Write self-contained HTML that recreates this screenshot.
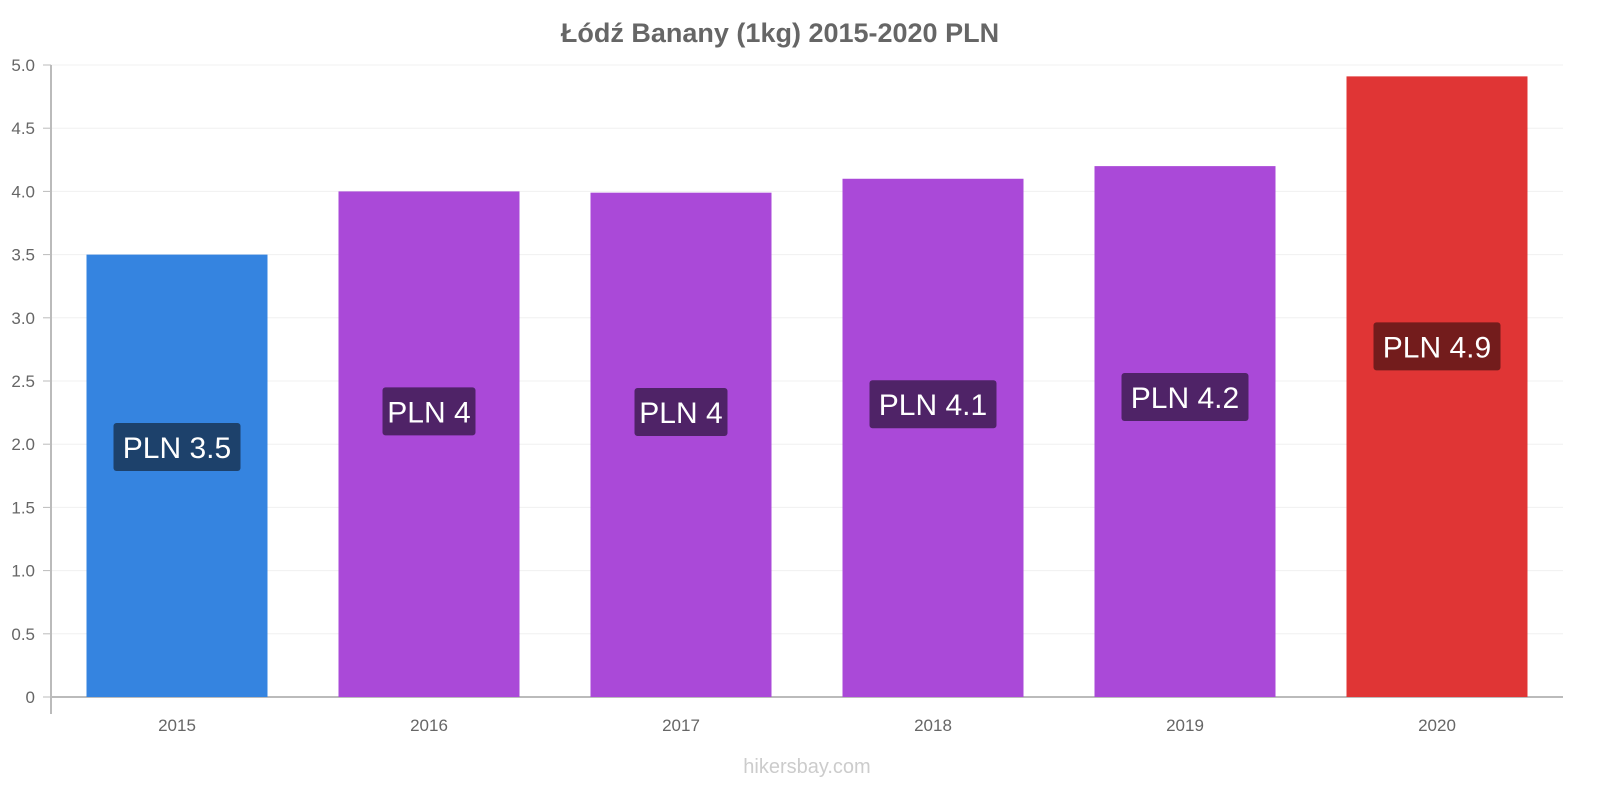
<!DOCTYPE html>
<html><head><meta charset="utf-8"><style>
body{margin:0;background:#fff;width:1600px;height:800px;overflow:hidden;font-family:"Liberation Sans",sans-serif}
</style></head><body>
<svg id="c" width="1600" height="800">
<text x="780" y="42" text-anchor="middle" font-size="27" font-weight="bold" fill="#666">Łódź Banany (1kg) 2015-2020 PLN</text>
<text x="807" y="773" text-anchor="middle" font-size="20" fill="#ccc">hikersbay.com</text>
</svg>
<script>
const categories=["2015","2016","2017","2018","2019","2020"];
const values=[3.5,4.0,3.99,4.1,4.2,4.91];
const labels=["PLN 3.5","PLN 4","PLN 4","PLN 4.1","PLN 4.2","PLN 4.9"];
const ticks=[0,0.5,1,1.5,2,2.5,3,3.5,4,4.5,5];
const tickLabels=["0","0.5","1.0","1.5","2.0","2.5","3.0","3.5","4.0","4.5","5.0"];
const svg=document.getElementById('c');const NS="http://www.w3.org/2000/svg";
const x0=51,x1=1563,y0=697,yTop=65,band=(x1-x0)/categories.length;
const y=v=>y0-(y0-yTop)*v/5;
function mk(t,a,p){const e=document.createElementNS(NS,t);for(const k in a)e.setAttribute(k,a[k]);(p||svg).appendChild(e);return e;}
ticks.forEach((t,i)=>{
 const g=mk('line',{x1:x0,x2:x1,y1:y(t),y2:y(t),stroke:t===0?'#bbb':'#f0f0f0','stroke-width':t===0?2:1});
 
 mk('line',{x1:x0-8,x2:x0,y1:y(t),y2:y(t),stroke:'#bbb'});
 const l=mk('text',{x:35,y:y(t)+6,'text-anchor':'end','font-size':17,fill:'#666'});l.textContent=tickLabels[i];
 
});
const ax=mk('line',{x1:x0,x2:x0,y1:yTop,y2:714,stroke:'#bbb','stroke-width':2});

categories.forEach((c,i)=>{
 const v=values[i];
 const col=i===0?'#3584e0':(i===categories.length-1?'#e03535':'#aa49d8');
 const lc=i===0?'#1d416b':(i===categories.length-1?'#731c1c':'#4f2367');
 const bx=x0+band*i+35.5,bw=181;
 const b=mk('rect',{x:bx,y:y(v),width:bw,height:y0-y(v),fill:col});
 
 const cy=y(v*0.565);const cx=bx+bw/2;const w=labels[i].length*17+8;
 const r=mk('rect',{x:cx-w/2,y:cy-24,width:w,height:48,rx:3,fill:lc});
 
 const t=mk('text',{x:cx,y:cy+11,'text-anchor':'middle','font-size':30,fill:'#fff'});t.textContent=labels[i];
 
 const xl=mk('text',{x:cx,y:731,'text-anchor':'middle','font-size':17,fill:'#666'});xl.textContent=c;
 
});
</script>
</body></html>
